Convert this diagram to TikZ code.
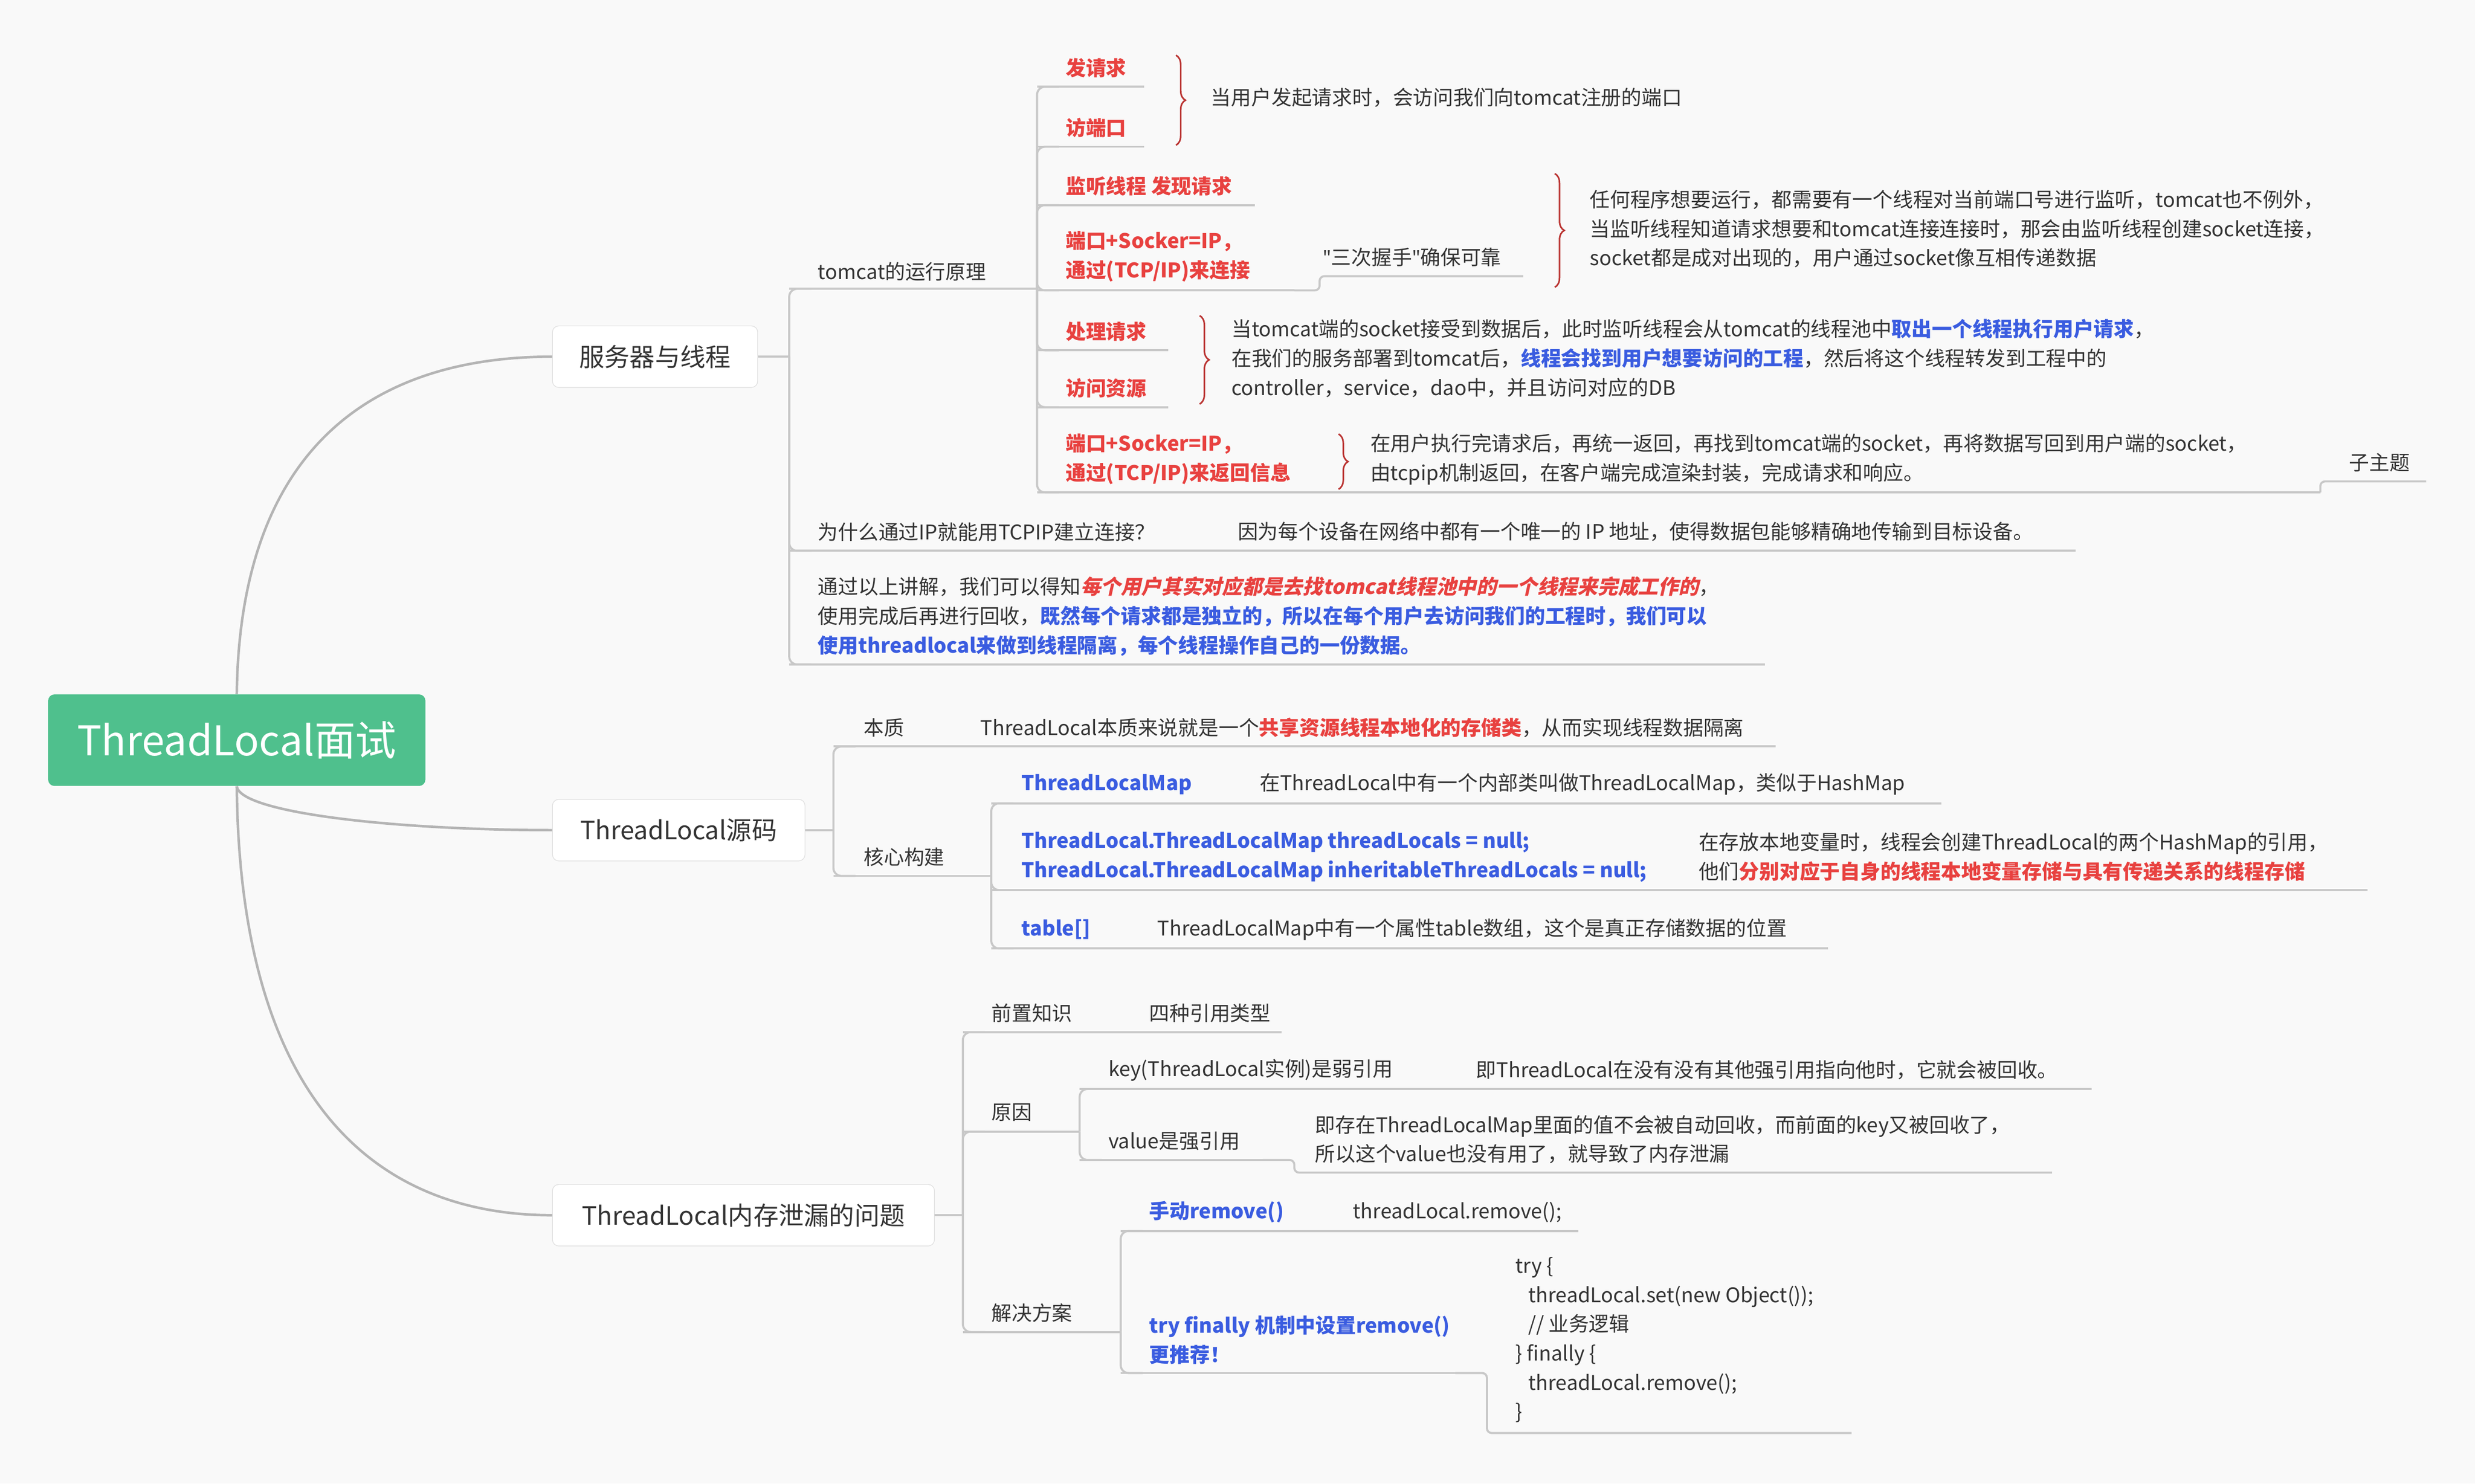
\documentclass[tikz,border=0pt]{standalone}
\usepackage{fontspec}
\setmainfont{Noto Sans CJK SC}
\newfontfamily\latf{Noto Sans}
\usetikzlibrary{decorations.pathreplacing}
\definecolor{rd}{HTML}{E8413F}
\definecolor{bl}{HTML}{3A5CE0}
\definecolor{tx}{HTML}{333333}
\definecolor{lnc}{HTML}{C8C8C8}
\definecolor{grn}{HTML}{4FC08D}
\definecolor{bgc}{HTML}{F9F9F9}
\newcommand\R[1]{{\color{rd}\bfseries #1}}
\newcommand\B[1]{{\color{bl}\bfseries #1}}
\newcommand\ulin[3]{\draw[ln] (#1,#3) -- (#2,#3);}
\newcommand\spn[3]{\draw[ln,rounded corners=5] (#1,#2) -- (#1,#3) -- ++(14,0);}
\newcommand\stp[5]{\draw[ln,rounded corners=3] (#1,#2) -- (#3,#2) -- (#3,#4) -- (#5,#4);}
\begin{document}
\begin{tikzpicture}[x=1pt,y=-1pt,
  ln/.style={draw=lnc,line width=1.3pt},
  br/.style={draw=lnc!90!black,line width=1.6pt},
  t/.style={anchor=west,inner sep=0pt,text=tx,font=\fontsize{12.8}{18.5}\selectfont,align=left},
  box/.style={draw=gray!25,fill=white,rounded corners=4pt,minimum height=39pt,inner sep=0pt,text=tx,font=\fontsize{16}{18}\selectfont},
  brc/.style={draw=rd!80!black,line width=1pt,decorate,decoration={brace,amplitude=6pt}}]
\fill[bgc] (0,0) rectangle (1568,940);
\useasboundingbox (0,0) rectangle (1568,940);
% root and main boxes
\node[fill=grn,rounded corners=4pt,minimum width=239pt,minimum height=58pt,text=white,font=\fontsize{26}{30}\selectfont] (root) at (150,469) {ThreadLocal面试};
\node[box,minimum width=130pt] (b1) at (415,226) {服务器与线程};
\node[box,minimum width=160pt] (b2) at (430,526) {ThreadLocal源码};
\node[box,minimum width=242pt] (b3) at (471,770) {ThreadLocal内存泄漏的问题};
\draw[br] (root.north) .. controls (152,280) and (240,226) .. (b1.west);
\draw[br] (root.south) .. controls (152,515) and (250,526) .. (b2.west);
\draw[br] (root.south) .. controls (152,700) and (240,770) .. (b3.west);
% ===== branch 1
\draw[ln] (b1.east) -- (500,226);
\spn{500}{226}{183}\spn{500}{226}{349}\spn{500}{226}{421}
\ulin{500}{657}{183}\node[t] (tc) at (518,172) {tomcat的运行原理};
\foreach \y in {55,93,130,184,222,258,312} {\spn{657}{183}{\y}}
\ulin{657}{725}{55}\node[t] (a1) at (675,43) {\R{发请求}};
\ulin{657}{725}{93}\node[t] (a2) at (675,81) {\R{访端口}};
\draw[brc] (745,35) -- (745,92);
\node[t] (a12) at (767,62) {当用户发起请求时，会访问我们向tomcat注册的端口};
\ulin{657}{795}{130}\node[t] (a3) at (675,118) {\R{监听线程 发现请求}};
\ulin{657}{820}{184}\node[t] (a4) at (675,162.5) {\R{端口+Socker=IP，}\\\R{通过(TCP/IP)来连接}};
\stp{820}{184}{836}{175}{965}\node[t] (a4d) at (838,163) {{\latf\char"22}三次握手{\latf\char"22}确保可靠};
\draw[brc] (985,110) -- (985,182);
\node[t] (a34) at (1007,145) {任何程序想要运行，都需要有一个线程对当前端口号进行监听，tomcat也不例外，\\当监听线程知道请求想要和tomcat连接连接时，那会由监听线程创建socket连接，\\socket都是成对出现的，用户通过socket像互相传递数据};
\ulin{657}{740}{222}\node[t] (a5) at (675,210) {\R{处理请求}};
\ulin{657}{740}{258}\node[t] (a6) at (675,246) {\R{访问资源}};
\draw[brc] (760,200) -- (760,256);
\node[t] (a56) at (780,227) {当tomcat端的socket接受到数据后，此时监听线程会从tomcat的线程池中\B{取出一个线程执行用户请求}，\\在我们的服务部署到tomcat后，\B{线程会找到用户想要访问的工程}，然后将这个线程转发到工程中的\\controller，service，dao中，并且访问对应的DB};
\ulin{657}{1470}{312}\node[t] (a7) at (675,291) {\R{端口+Socker=IP，}\\\R{通过(TCP/IP)来返回信息}};
\draw[brc] (848,275) -- (848,310);
\node[t] (a7d) at (868,291) {在用户执行完请求后，再统一返回，再找到tomcat端的socket，再将数据写回到用户端的socket，\\由tcpip机制返回，在客户端完成渲染封装，完成请求和响应。};
\stp{1470}{312}{1470}{305}{1537}\node[t] (sub) at (1488,293) {子主题};
\ulin{500}{1315}{349}\node[t] (why) at (518,337) {为什么通过IP就能用TCPIP建立连接？};
\node[t] (whyd) at (784,337) {因为每个设备在网络中都有一个唯一的 IP 地址，使得数据包能够精确地传输到目标设备。};
\ulin{500}{1118}{421}\node[t] (par) at (518,390.5) {通过以上讲解，我们可以得知{\color{rd}\bfseries\addfontfeature{FakeSlant=0.22}每个用户其实对应都是去找tomcat线程池中的一个线程来完成工作的}，\\使用完成后再进行回收，\B{既然每个请求都是独立的，所以在每个用户去访问我们的工程时，我们可以}\\\B{使用threadlocal来做到线程隔离，每个线程操作自己的一份数据。}};
% ===== branch 2
\draw[ln] (b2.east) -- (528,526);
\spn{528}{526}{473}\spn{528}{526}{555}
\ulin{528}{1125}{473}\node[t] (bz) at (547,461) {本质};
\node[t] (bzd) at (621,461) {ThreadLocal本质来说就是一个\R{共享资源线程本地化的存储类}，从而实现线程数据隔离};
\ulin{528}{628}{555}\node[t] (hx) at (547,543) {核心构建};
\spn{628}{555}{509}\spn{628}{555}{564}\spn{628}{555}{601}
\ulin{628}{1230}{509}\node[t] (tm) at (647,497) {\B{ThreadLocalMap}};
\node[t] (tmd) at (798,497) {在ThreadLocal中有一个内部类叫做ThreadLocalMap，类似于HashMap};
\ulin{628}{1500}{564}\node[t] (tl) at (647,543) {\B{ThreadLocal.ThreadLocalMap threadLocals = null;}\\\B{ThreadLocal.ThreadLocalMap inheritableThreadLocals = null;}};
\node[t] (tld) at (1076,543) {在存放本地变量时，线程会创建ThreadLocal的两个HashMap的引用，\\他们\R{分别对应于自身的线程本地变量存储与具有传递关系的线程存储}};
\ulin{628}{1158}{601}\node[t] (tb) at (647,589) {\B{table[]}};
\node[t] (tbd) at (733,589) {ThreadLocalMap中有一个属性table数组，这个是真正存储数据的位置};
% ===== branch 3
\draw[ln] (b3.east) -- (610,770);
\spn{610}{770}{654}\spn{610}{770}{717}\spn{610}{770}{844}
\ulin{610}{812}{654}\node[t] (qz) at (628,642) {前置知识};
\node[t] (qzd) at (728,642) {四种引用类型};
\ulin{610}{684}{717}\node[t] (yy) at (628,705) {原因};
\spn{684}{717}{690}\spn{684}{717}{735}
\ulin{684}{1325}{690}\node[t] (key) at (702,678) {key(ThreadLocal实例)是弱引用};
\node[t] (keyd) at (935,678) {即ThreadLocal在没有没有其他强引用指向他时，它就会被回收。};
\ulin{684}{800}{735}\node[t] (val) at (702,723) {value是强引用};
\stp{800}{735}{820}{743}{1300}\node[t] (vald) at (833,722) {即存在ThreadLocalMap里面的值不会被自动回收，而前面的key又被回收了，\\所以这个value也没有用了，就导致了内存泄漏};
\ulin{610}{710}{844}\node[t] (jj) at (628,832) {解决方案};
\spn{710}{844}{780}\spn{710}{844}{870}
\ulin{710}{1000}{780}\node[t] (sd) at (728,768) {\B{手动remove()}};
\node[t] (sdd) at (857,768) {threadLocal.remove();};
\ulin{710}{922}{870}\node[t] (tf) at (728,849) {\B{try finally 机制中设置remove()}\\\B{更推荐！}};
\stp{922}{870}{942}{908}{1173}
\node[t] (code) at (960,849) {try \{\\\hspace*{8pt}threadLocal.set(new Object());\\\hspace*{8pt}// 业务逻辑\\\} finally \{\\\hspace*{8pt}threadLocal.remove();\\\}};
\end{tikzpicture}
\end{document}
